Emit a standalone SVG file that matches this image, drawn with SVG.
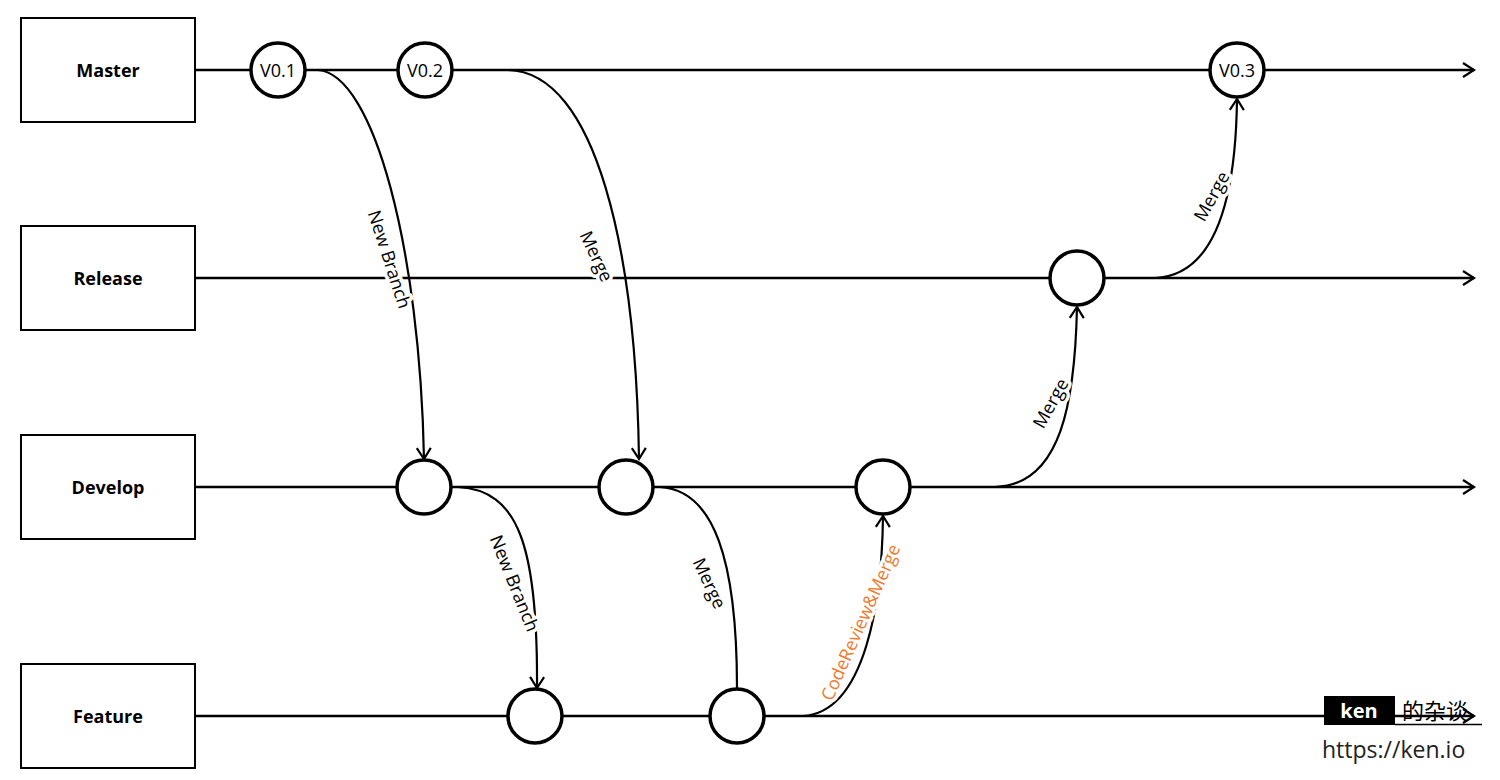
<svg xmlns="http://www.w3.org/2000/svg" width="1500" height="780" viewBox="0 0 1500 780">
<style>
.box{fill:#fff;stroke:#000;stroke-width:2}
.bt{font-family:"Open Sans","Noto Sans",sans-serif;font-weight:bold;font-size:18px;fill:#000;text-anchor:middle;dominant-baseline:central}
.c{fill:#fff;stroke:#000;stroke-width:3.5}
.ct{font-family:"Open Sans","Noto Sans",sans-serif;font-size:18px;fill:#000;text-anchor:middle;dominant-baseline:central}
.lane{fill:none;stroke:#000;stroke-width:2.3;marker-end:url(#ah)}
.cv{fill:none;stroke:#000;stroke-width:2.2}
.cva{fill:none;stroke:#000;stroke-width:2.2;marker-end:url(#ah)}
.lb{font-family:"Open Sans","Noto Sans",sans-serif;font-size:18px;fill:#000;text-anchor:middle;dominant-baseline:central;stroke:#fff;stroke-width:7;paint-order:stroke;stroke-linejoin:round}
.or{fill:#F07A2E}
</style>
<defs>
<marker id="ah" markerUnits="userSpaceOnUse" markerWidth="20" markerHeight="20" refX="12" refY="8" orient="auto" viewBox="0 0 20 16">
<path d="M1,1 L12,8 L1,15" fill="none" stroke="#000" stroke-width="2.2"/>
</marker>
</defs>
<g id="connectors">
<line class="lane" x1="195" y1="70" x2="1474" y2="70"/>
<line class="lane" x1="195" y1="278" x2="1474" y2="278"/>
<line class="lane" x1="195" y1="487" x2="1474" y2="487"/>
<line class="lane" x1="195" y1="716" x2="1474" y2="716"/>
<path class="cva" d="M318 70 C374 74,420 250,424 459"/>
<path class="cva" d="M508 70 C596 72,636 250,639 459"/>
<path class="cva" d="M458 487 C518 490,538 545,537 688"/>
<path class="cv" d="M660 487 C714 490,737 560,737 688"/>
<path class="cva" d="M803 716 C866 712,882 600,883 516"/>
<path class="cva" d="M995 487 C1062 485,1075 400,1077 307"/>
<path class="cva" d="M1155 278 C1222 275,1236 180,1237 99"/>
<text class="lb" transform="translate(390,259) rotate(72)">New Branch</text>
<text class="lb" transform="translate(597,256) rotate(65)">Merge</text>
<text class="lb" transform="translate(515,583) rotate(68)">New Branch</text>
<text class="lb" transform="translate(710,583) rotate(65)">Merge</text>
<text class="lb or" transform="translate(860,622) rotate(-66)">CodeReview&amp;Merge</text>
<text class="lb" transform="translate(1050,403) rotate(-61)">Merge</text>
<text class="lb" transform="translate(1211,196) rotate(-61)">Merge</text>
</g>
<g id="master"><rect class="box" x="21" y="18" width="174" height="104"/><text class="bt" x="108" y="70">Master</text></g>
<g id="release"><rect class="box" x="21" y="226" width="174" height="104"/><text class="bt" x="108" y="278">Release</text></g>
<g id="develop"><rect class="box" x="21" y="435" width="174" height="104"/><text class="bt" x="108" y="487">Develop</text></g>
<g id="feature"><rect class="box" x="21" y="664" width="174" height="104"/><text class="bt" x="108" y="716">Feature</text></g>
<g id="v01"><circle class="c" cx="278" cy="70" r="27"/><text class="ct" x="278" y="70">V0.1</text></g>
<g id="v02"><circle class="c" cx="425" cy="70" r="27"/><text class="ct" x="425" y="70">V0.2</text></g>
<g id="v03"><circle class="c" cx="1237" cy="70" r="27"/><text class="ct" x="1237" y="70">V0.3</text></g>
<g id="release1"><circle class="c" cx="1077" cy="278" r="27"/></g>
<g id="develop1"><circle class="c" cx="424" cy="487" r="27"/></g>
<g id="develop2"><circle class="c" cx="626" cy="487" r="27"/></g>
<g id="develop3"><circle class="c" cx="883" cy="487" r="27"/></g>
<g id="feature1"><circle class="c" cx="535" cy="716" r="27"/></g>
<g id="feature2"><circle class="c" cx="737" cy="716" r="27"/></g>
<g id="watermark">
<rect x="1324" y="696" width="71" height="29" fill="#000"/>
<text x="1359" y="718" font-family="'Open Sans','Noto Sans',sans-serif" font-weight="bold" font-size="20" fill="#fff" text-anchor="middle">ken</text>
<text x="1402" y="719" font-family="'Noto Sans CJK SC',sans-serif" font-size="22" fill="#000">的杂谈</text>
<line x1="1395" y1="724.5" x2="1482" y2="724.5" stroke="#000" stroke-width="1.5"/>
<text x="1322" y="758" font-family="'Open Sans','Noto Sans',sans-serif" font-size="23" fill="#222">https://ken.io</text>
</g>
</svg>
